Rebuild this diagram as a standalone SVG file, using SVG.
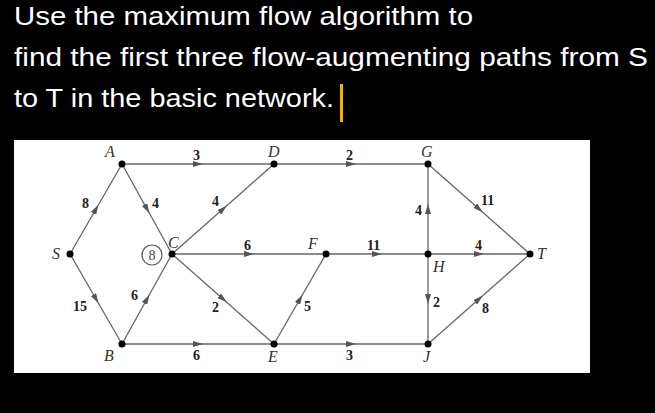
<svg xmlns="http://www.w3.org/2000/svg" width="655" height="413" viewBox="0 0 655 413">
<style>
.q{font-family:"Liberation Sans",Arial,sans-serif;font-size:26px;fill:#fff}
.e{stroke:#666;stroke-width:1.3;fill:none;marker-mid:url(#ar)}
.w{font-family:"Liberation Serif","DejaVu Serif",serif;font-size:14px;font-weight:bold;fill:#222}
.n{font-family:"Liberation Serif","DejaVu Serif",serif;font-size:16px;font-style:italic;fill:#333}
</style>
<defs><marker id="ar" viewBox="0 0 10 6" refX="5" refY="3" markerWidth="10" markerHeight="6" orient="auto" markerUnits="userSpaceOnUse"><path d="M0,0L10,3L0,6z" fill="#555"/></marker></defs>
<rect width="655" height="413" fill="#000"/>
<text class="q" x="14" y="25" textLength="459" lengthAdjust="spacingAndGlyphs">Use the maximum flow algorithm to</text>
<text class="q" x="14" y="66" textLength="634" lengthAdjust="spacingAndGlyphs">find the first three flow-augmenting paths from S</text>
<text class="q" x="14" y="107" textLength="320" lengthAdjust="spacingAndGlyphs">to T in the basic network.</text>
<rect x="340" y="84" width="3" height="38" fill="#f0b400"/>
<rect x="14" y="140" width="576" height="233" fill="#fff"/>
<g id="edges">
<polyline class="e" points="70,254 96,209 122,164"/>
<polyline class="e" points="70,254 96,299 122,344"/>
<polyline class="e" points="122,164 198,164 274,164"/>
<polyline class="e" points="122,164 147,209 172,254"/>
<polyline class="e" points="122,344 147,299 172,254"/>
<polyline class="e" points="122,344 198,344 274,344"/>
<polyline class="e" points="172,254 223,209 274,164"/>
<polyline class="e" points="172,254 249,254 326,254"/>
<polyline class="e" points="172,254 223,299 274,344"/>
<polyline class="e" points="274,344 300,299 326,254"/>
<polyline class="e" points="274,164 351,164 428,164"/>
<polyline class="e" points="326,254 377,254 428,254"/>
<polyline class="e" points="274,344 351,344 428,344"/>
<polyline class="e" points="428,254 428,209 428,164"/>
<polyline class="e" points="428,254 428,299 428,344"/>
<polyline class="e" points="428,164 479,209 530,254"/>
<polyline class="e" points="428,254 479,254 530,254"/>
<polyline class="e" points="428,344 479,299 530,254"/>
</g>
<g id="weights">
<text class="w" x="82" y="208">8</text>
<text class="w" x="73" y="311">15</text>
<text class="w" x="193" y="160">3</text>
<text class="w" x="152" y="208">4</text>
<text class="w" x="131" y="300">6</text>
<text class="w" x="193" y="360">6</text>
<text class="w" x="212" y="206">4</text>
<text class="w" x="244" y="250">6</text>
<text class="w" x="212" y="312">2</text>
<text class="w" x="304" y="311">5</text>
<text class="w" x="346" y="160">2</text>
<text class="w" x="367" y="250">11</text>
<text class="w" x="346" y="360">3</text>
<text class="w" x="415" y="215">4</text>
<text class="w" x="433" y="307">2</text>
<text class="w" x="481" y="205">11</text>
<text class="w" x="475" y="250">4</text>
<text class="w" x="482" y="313">8</text>
</g>
<g id="S"><circle cx="70" cy="254" r="3.5"/><text class="n" x="52" y="259">S</text></g>
<g id="A"><circle cx="122" cy="164" r="3.5"/><text class="n" x="105" y="157">A</text></g>
<g id="B"><circle cx="122" cy="344" r="3.5"/><text class="n" x="104" y="361">B</text></g>
<g id="C"><circle cx="172" cy="254" r="3.5"/><text class="n" x="168" y="248">C</text>
<circle cx="152" cy="255" r="10" fill="none" stroke="#555" stroke-width="1.2"/><text x="152" y="260" text-anchor="middle" font-family="Liberation Serif,serif" font-size="14" fill="#444">8</text></g>
<g id="D"><circle cx="274" cy="164" r="3.5"/><text class="n" x="268" y="157">D</text></g>
<g id="E"><circle cx="274" cy="344" r="3.5"/><text class="n" x="268" y="362">E</text></g>
<g id="F"><circle cx="326" cy="254" r="3.5"/><text class="n" x="308" y="249">F</text></g>
<g id="G"><circle cx="428" cy="164" r="3.5"/><text class="n" x="421" y="157">G</text></g>
<g id="H"><circle cx="428" cy="254" r="3.5"/><text class="n" x="433" y="272">H</text></g>
<g id="J"><circle cx="428" cy="344" r="3.5"/><text class="n" x="423" y="362">J</text></g>
<g id="T"><circle cx="530" cy="254" r="3.5"/><text class="n" x="537" y="259">T</text></g>
</svg>
